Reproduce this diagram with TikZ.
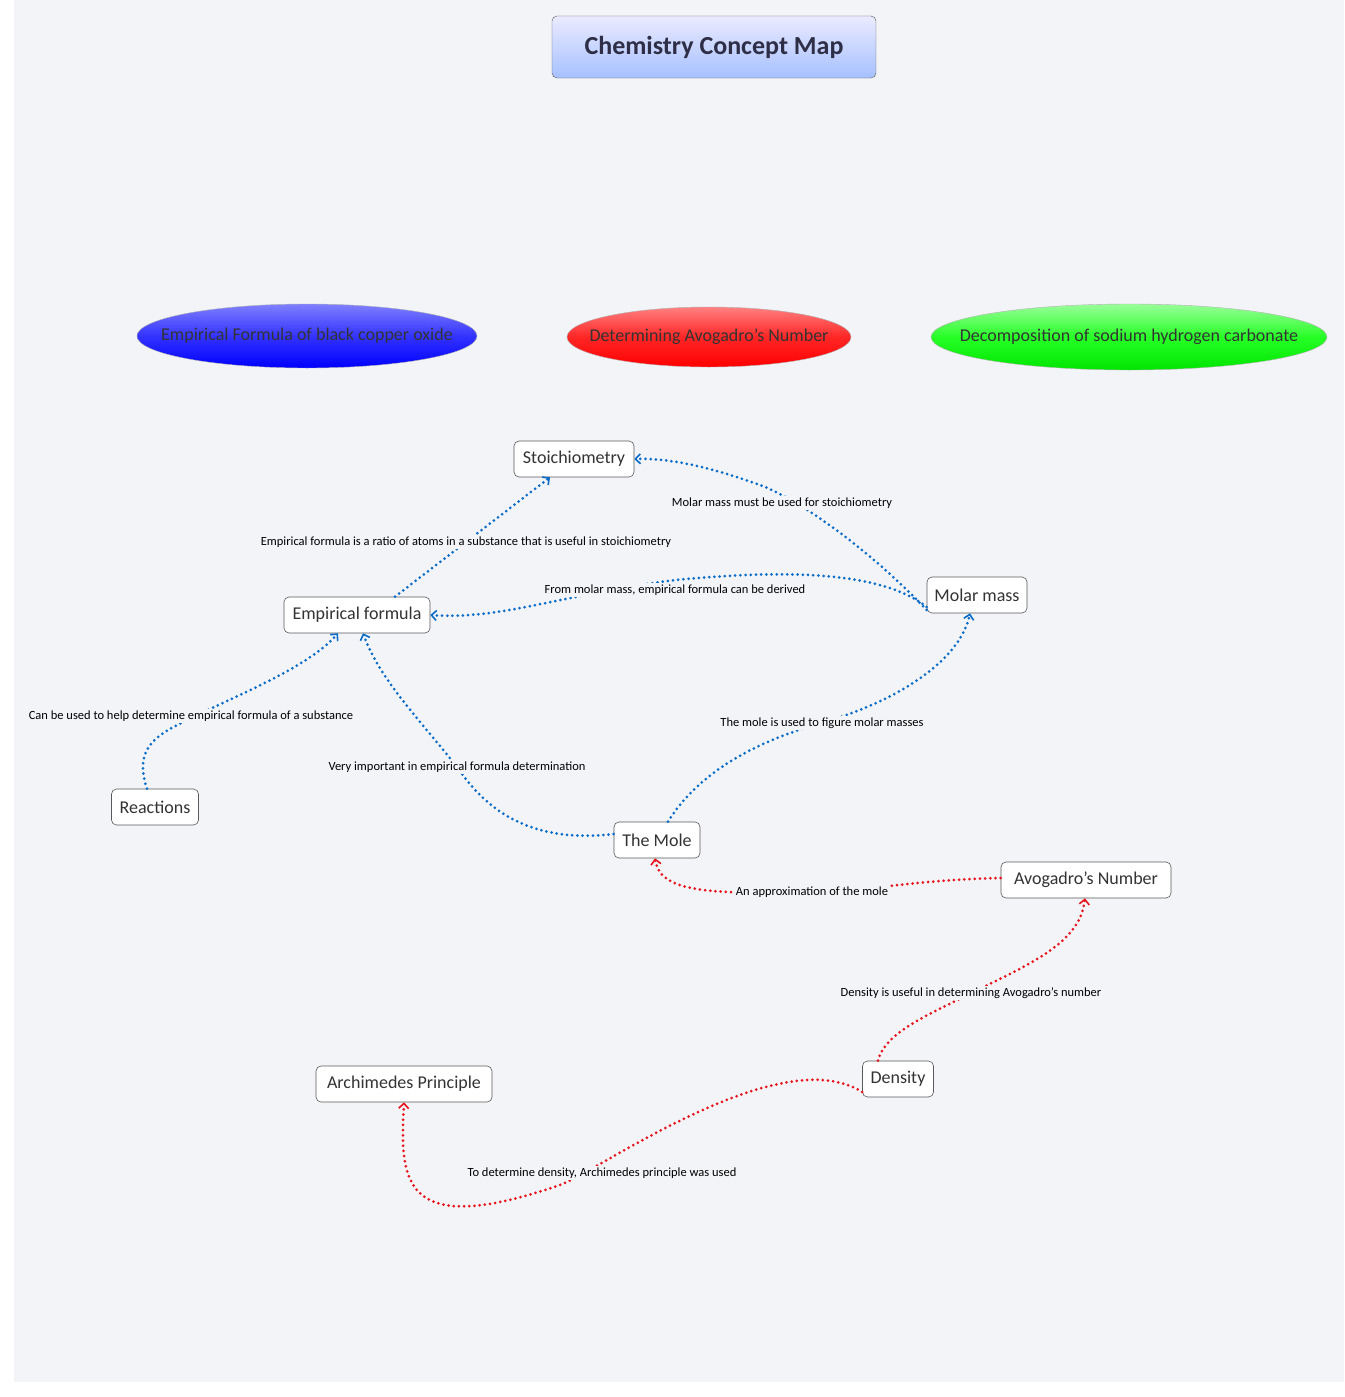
\documentclass[tikz,border=0pt]{standalone}
\usepackage{fontspec}
\setmainfont{Carlito}
\usetikzlibrary{arrows.meta,shapes.geometric}
\definecolor{bg}{HTML}{F2F4F7}
\definecolor{lblue}{HTML}{0A6CC8}
\definecolor{lred}{HTML}{E8141C}
\definecolor{txt}{HTML}{333333}
\begin{document}
\begin{tikzpicture}[x=1pt,y=-1pt,
 concept/.style={draw=gray!70!black,rounded corners=5pt,fill=white,minimum height=36,inner xsep=4,font=\fontsize{18}{20}\selectfont,text=txt,line width=0.6pt},
 ovaltext/.style={font=\fontsize{18}{20}\selectfont,text=txt,inner sep=0pt},
 lnk/.style={line width=3pt,dash pattern=on 0pt off 5.2pt,line cap=round,-{Straight Barb[length=5pt,width=10pt,line width=1.6pt]}},
 bl/.style={lnk,draw=lblue},
 rd/.style={lnk,draw=lred},
 lab/.style={fill=bg,inner sep=1.5pt,font=\fontsize{12.5}{14}\selectfont,text=black}]
\useasboundingbox (0,0) rectangle (1344,1397);
\fill[white] (0,0) rectangle (1344,1397);
\fill[bg] (14,0) rectangle (1344,1382);
\node[draw=gray!70!black,rounded corners=5pt,top color=blue!8,bottom color=cyan!30!blue!35,minimum width=324,minimum height=62,font=\fontsize{26}{30}\bfseries\selectfont,text=txt!90!blue] (title) at (714,47) {Chemistry Concept Map};
\shade[top color=blue!50!white,bottom color=blue,middle color=blue!80,draw=gray!60] (307,336) ellipse [x radius=170,y radius=32];
\node[ovaltext] (e1) at (307,336) {Empirical Formula of black copper oxide};
\shade[top color=red!50!white,bottom color=red,middle color=red!85,draw=gray!60] (709,337) ellipse [x radius=142,y radius=30];
\node[ovaltext] (e2) at (709,337) {Determining Avogadro's Number};
\shade[top color=green!40!white,bottom color=green!90!black,middle color=green!85,draw=gray!60] (1129,337) ellipse [x radius=198,y radius=33];
\node[ovaltext] (e3) at (1129,337) {Decomposition of sodium hydrogen carbonate};
\node[concept,minimum width=120] (st) at (574,459) {Stoichiometry};
\node[concept,minimum width=146] (ef) at (357,615) {Empirical formula};
\node[concept,minimum width=100] (mm) at (977,595) {Molar mass};
\node[concept,minimum width=87] (re) at (155,807) {Reactions};
\node[concept,minimum width=86] (mo) at (657,840) {The Mole};
\node[concept,minimum width=170] (an) at (1086,880) {Avogadro's Number};
\node[concept,minimum width=176] (ap) at (404,1084) {Archimedes Principle};
\node[concept,minimum width=71] (de) at (898,1079) {Density};
\draw[bl] ([xshift=38]ef.north) -- ([xshift=-24]st.south);
\node[lab] at (466,542) {Empirical formula is a ratio of atoms in a substance that is useful in stoichiometry};
\draw[bl] ([yshift=-15]mm.west) .. controls (870,550) and (800,500) .. (760,485) .. controls (710,467) and (670,458) .. (st.east);
\node[lab] at (782,503) {Molar mass must be used for stoichiometry};
\draw[bl] ([yshift=-12]mm.west) .. controls (880,570) and (780,570) .. (675,580) .. controls (560,595) and (500,620) .. (ef.east);
\node[lab] at (675,590) {From molar mass, empirical formula can be derived};
\draw[bl] ([xshift=-8]re.north) .. controls (130,740) and (170,730) .. (195,716) .. controls (250,690) and (310,665) .. ([xshift=-19]ef.south);
\node[lab] at (191,716) {Can be used to help determine empirical formula of a substance};
\draw[bl] ([yshift=6]mo.west) .. controls (520,845) and (480,800) .. (457,767) .. controls (420,720) and (380,680) .. ([xshift=6]ef.south);
\node[lab] at (457,767) {Very important in empirical formula determination};
\draw[bl] ([xshift=11]mo.north) .. controls (700,770) and (760,740) .. (822,723) .. controls (900,700) and (960,660) .. ([xshift=-7]mm.south);
\node[lab] at (822,723) {The mole is used to figure molar masses};
\draw[rd] ([yshift=2]an.west) .. controls (900,880) and (850,895) .. (812,892) .. controls (700,895) and (660,890) .. ([xshift=-2]mo.south);
\node[lab] at (812,892) {An approximation of the mole};
\draw[rd] ([xshift=-20]de.north) .. controls (885,1030) and (940,1010) .. (971,993) .. controls (1040,960) and (1080,940) .. ([xshift=-1]an.south);
\node[lab] at (971,993) {Density is useful in determining Avogadro's number};
\draw[rd] ([yshift=-13]de.west) .. controls (780,1040) and (600,1170) .. (560,1185) .. controls (400,1240) and (400,1180) .. (ap.south);
\node[lab] at (602,1173) {To determine density, Archimedes principle was used};
\end{tikzpicture}
\end{document}
